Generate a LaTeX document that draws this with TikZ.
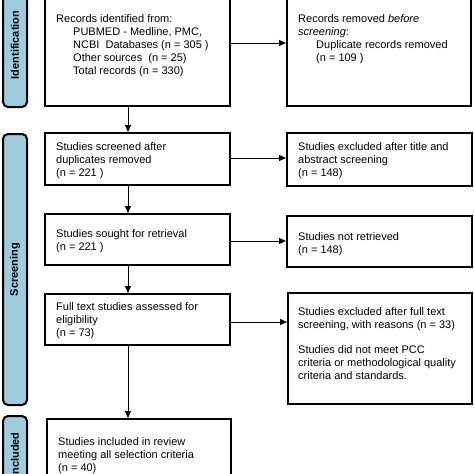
\documentclass[tikz,border=0pt]{standalone}
\usepackage{fontspec}
\setmainfont{Liberation Sans}
\usetikzlibrary{arrows.meta}
\definecolor{sidefill}{RGB}{158,204,222}
\begin{document}
\begin{tikzpicture}[x=1pt,y=-1pt,
  box/.style={draw=black, line width=2pt, fill=white, inner sep=0pt},
  side/.style={draw=black, line width=2pt, fill=sidefill, rounded corners=5pt, minimum width=24pt, inner sep=0pt},
  sidelabel/.style={rotate=90, inner sep=0pt, font=\fontsize{11}{13}\selectfont\bfseries},
  txt/.style={anchor=west, align=left, inner sep=0pt, font=\fontsize{11}{13}\selectfont},
  arr/.style={line width=1pt, -{Triangle[length=7pt,width=6pt]}}]
\useasboundingbox (0,0) rectangle (474,474);
\clip (0,0) rectangle (474,474);
\fill[white] (0,0) rectangle (474,474);

% sidebars
\node[side, minimum height=124pt] (s1) at (15,45) {};
\node[sidelabel] (l1) at (s1.center) {Identification};
\node[side, minimum height=271pt] (s2) at (15,269.5) {};
\node[sidelabel] (l2) at (s2.center) {Screening};
\node[side, minimum height=78pt] (s3) at (15,455) {};
\node[sidelabel] (l3) at (s3.center) {Included};

% left column boxes
\node[box, minimum width=185pt, minimum height=122pt] (b1) at (137.5,45) {};
\node[box, minimum width=185pt, minimum height=52pt] (b2) at (137.5,159) {};
\node[box, minimum width=185pt, minimum height=51pt] (b3) at (137.5,239.5) {};
\node[box, minimum width=185pt, minimum height=51pt] (b4) at (137.5,319.5) {};
\node[box, minimum width=184pt, minimum height=72pt] (b5) at (139,455) {};

% right column boxes
\node[box, minimum width=184pt, minimum height=122pt] (r1) at (379,45) {};
\node[box, minimum width=185pt, minimum height=53pt] (r2) at (379.5,159.5) {};
\node[box, minimum width=185pt, minimum height=51pt] (r3) at (379.5,241.5) {};
\node[box, minimum width=184pt, minimum height=111pt] (r4) at (380,348.5) {};

% texts
\node[txt] (t1) at (56,46) {Records identified from:\\
\hspace*{17pt}PUBMED - Medline, PMC,\\
\hspace*{17pt}NCBI\ \ Databases (n = 305 )\\
\hspace*{17pt}Other sources\ \ (n = 25)\\
\hspace*{17pt}Total records (n = 330)};
\node[txt] (u1) at (298,39.5) {Records removed \textit{before}\\
\textit{screening}:\\
\hspace*{18pt}Duplicate records removed\\
\hspace*{18pt}(n = 109 )};
\node[txt] (t2) at (56,160.5) {Studies screened after\\duplicates removed\\(n = 221 )};
\node[txt] (u2) at (298,161) {Studies excluded after title and\\abstract screening\\(n = 148)};
\node[txt] (t3) at (56,241) {Studies sought for retrieval\\(n = 221 )};
\node[txt] (u3) at (298,244) {Studies not retrieved\\(n = 148)};
\node[txt] (t4) at (56,321) {Full text studies assessed for\\eligibility\\(n = 73)};
\node[txt] (u4) at (298,344) {Studies excluded after full text\\screening, with reasons (n = 33)\\[12pt]Studies did not meet PCC\\criteria or methodological quality\\criteria and standards.};
\node[txt] (t5) at (58,456) {Studies included in review\\meeting all selection criteria\\(n = 40)};

% connectors
\coordinate (col) at (128,0);
\draw[arr] (b1.south -| col) -- (b2.north -| col);
\draw[arr] (b2.south -| col) -- (b3.north -| col);
\draw[arr] (b3.south -| col) -- (b4.north -| col);
\draw[arr] (b4.south -| col) -- (b5.north -| col);
\coordinate (h1) at (0,43);
\coordinate (h2) at (0,158);
\coordinate (h3) at (0,241);
\coordinate (h4) at (0,322);
\draw[arr] (b1.east |- h1) -- (r1.west |- h1);
\draw[arr] (b2.east |- h2) -- (r2.west |- h2);
\draw[arr] (b3.east |- h3) -- (r3.west |- h3);
\draw[arr] (b4.east |- h4) -- (r4.west |- h4);
\end{tikzpicture}
\end{document}
